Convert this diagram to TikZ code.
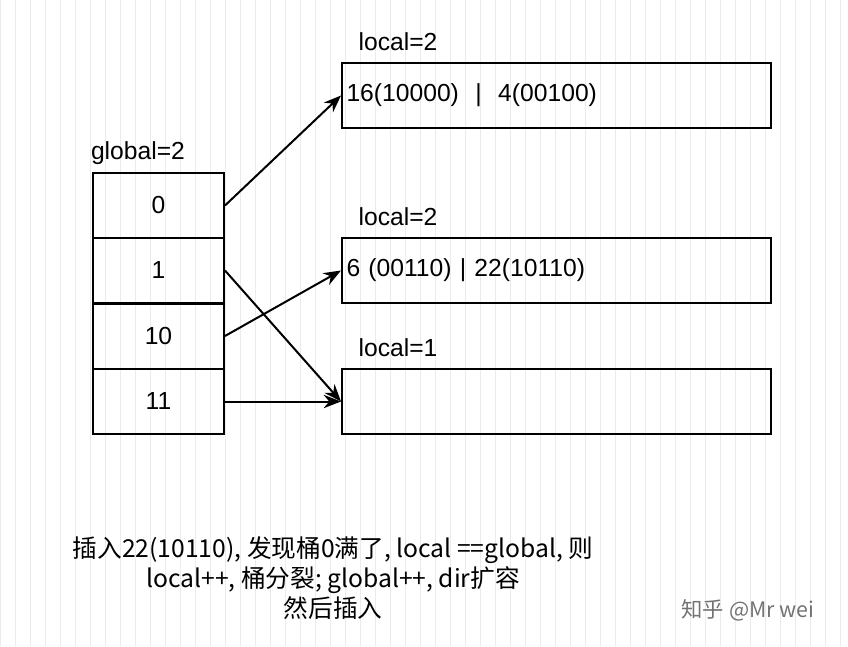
\documentclass[tikz,border=0pt]{standalone}
\usepackage{fontspec}
\setmainfont{Liberation Sans}
\newfontfamily\cjk{Noto Sans CJK SC}
\usetikzlibrary{arrows.meta}
\begin{document}
\begin{tikzpicture}[x=0.75pt,y=-0.75pt,
  cell/.style={draw,line width=1.5pt,minimum width=131*0.75pt,minimum height=65*0.75pt,inner sep=0,font=\fontsize{18.5}{20}\selectfont},
  bucket/.style={draw,line width=1.5pt,minimum width=429*0.75pt,minimum height=65*0.75pt,inner sep=3pt,text width=420*0.75pt,align=left,font=\fontsize{18.5}{20}\selectfont},
  lbl/.style={font=\fontsize{18.5}{20}\selectfont,inner sep=0},
  arr/.style={-{Stealth[length=13pt,width=10pt]},line width=1.5pt}]
\useasboundingbox (0,0) rectangle (848,646);
\fill[white] (0,0) rectangle (848,646);
\draw[black!8,step=15] (0,0) grid (848,646);
\node[cell] (d0) at (158.5,205.5) {0};
\node[cell] (d1) at (158.5,270.5) {1};
\node[cell] (d2) at (158.5,336) {10};
\node[cell] (d3) at (158.5,401.5) {11};
\node[bucket] (b0) at (556.5,95.5) {16(10000)\ \ |\ \ 4(00100)};
\node[bucket] (b1) at (556.5,270.5) {6 (00110) | 22(10110)};
\node[bucket] (b2) at (556.5,401.5) {};
\node[lbl] (g) at (138,153) {global=2};
\node[lbl] (l0) at (398,42) {local=2};
\node[lbl] (l1) at (398,217) {local=2};
\node[lbl] (l2) at (398,348) {local=1};
\draw[arr] (d0.east) -- (b0.west);
\draw[arr] (d1.east) -- (b2.west);
\draw[arr] (d2.east) -- (b1.west);
\draw[arr] (d3.east) -- (b2.west);
\node[lbl,align=center,font=\cjk\fontsize{18.5}{22.5}\selectfont] (t) at (333,578) {插入22(10110), 发现桶0满了, local ==global, 则\\local++, 桶分裂; global++, dir扩容\\然后插入};
\node[lbl,text=black!55,font=\cjk\fontsize{16}{18}\selectfont] (w) at (748,610) {知乎 @Mr wei};
\end{tikzpicture}
\end{document}
